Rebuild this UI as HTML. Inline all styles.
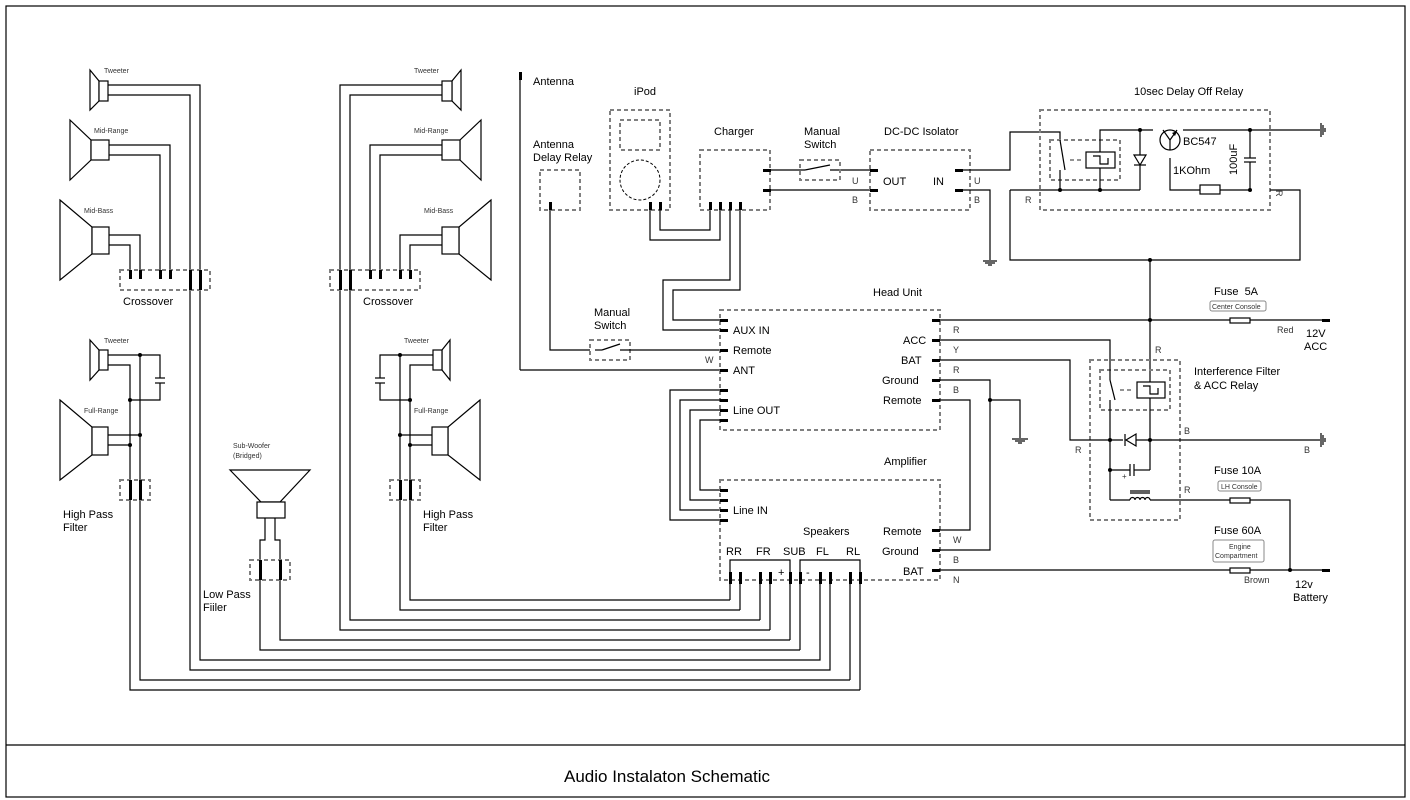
<!DOCTYPE html>
<html><head><meta charset="utf-8"><style>
html,body{margin:0;padding:0;background:#fff}
svg{display:block}
text{font-family:"Liberation Sans","DejaVu Sans",sans-serif;fill:#000}
.s{font-size:7px;fill:#333}
.m{font-size:11px}
.w{fill:none;stroke:#000;stroke-width:1.2}
.d{fill:none;stroke:#808080;stroke-width:2;stroke-dasharray:4,3}
.p{fill:#000}
.b{fill:#fff;stroke:#000;stroke-width:1.2}
</style></head><body>
<svg width="1410" height="800" viewBox="0 0 1410 800" xmlns="http://www.w3.org/2000/svg">
<rect x="6" y="6" width="1399" height="791" fill="none" stroke="#000" stroke-width="1.2"/>
<line x1="6" y1="745" x2="1405" y2="745" stroke="#000" stroke-width="1.2"/>
<text x="564" y="782" style="font-size:17px">Audio Instalaton Schematic</text>

<!-- ===== TOP LEFT SPEAKERS ===== -->
<polygon class="b" points="90,70 99,81 99,101 90,110"/><rect class="b" x="99" y="81" width="9" height="20"/>
<text class="s" x="104" y="73">Tweeter</text>
<polygon class="b" points="70,120 91,140 91,160 70,180"/><rect class="b" x="91" y="140" width="18" height="20"/>
<text class="s" x="94" y="133">Mid-Range</text>
<polygon class="b" points="60,200 92,227 92,254 60,280"/><rect class="b" x="92" y="227" width="17" height="27"/>
<text class="s" x="84" y="213">Mid-Bass</text>
<polyline class="w" points="108,85 200,85 200,660 730,660"/>
<polyline class="w" points="108,95 190,95 190,670 740,670"/>
<polyline class="w" points="109,145 170,145 170,275"/>
<polyline class="w" points="109,155 160,155 160,275"/>
<polyline class="w" points="109,235 140,235 140,275"/>
<polyline class="w" points="109,245 130,245 130,275"/>
<rect class="d" x="120" y="270" width="90" height="20"/>
<g class="p"><rect x="129" y="270" width="3" height="9"/><rect x="139" y="270" width="3" height="9"/><rect x="159" y="270" width="3" height="9"/><rect x="169" y="270" width="3" height="9"/><rect x="189" y="270" width="3" height="20"/><rect x="199" y="270" width="3" height="20"/></g>
<text class="m" x="123" y="305">Crossover</text>

<!-- ===== TOP RIGHT SPEAKERS ===== -->
<polygon class="b" points="461,70 452,81 452,101 461,110"/><rect class="b" x="442" y="81" width="10" height="20"/>
<text class="s" x="414" y="73">Tweeter</text>
<polygon class="b" points="481,120 460,140 460,160 481,180"/><rect class="b" x="442" y="140" width="18" height="20"/>
<text class="s" x="414" y="133">Mid-Range</text>
<polygon class="b" points="491,200 459,227 459,254 491,280"/><rect class="b" x="442" y="227" width="17" height="27"/>
<text class="s" x="424" y="213">Mid-Bass</text>
<polyline class="w" points="442,85 340,85 340,630 770,630"/>
<polyline class="w" points="442,95 350,95 350,620 760,620"/>
<polyline class="w" points="442,145 370,145 370,275"/>
<polyline class="w" points="442,155 380,155 380,275"/>
<polyline class="w" points="442,235 400,235 400,275"/>
<polyline class="w" points="442,245 410,245 410,275"/>
<rect class="d" x="330" y="270" width="90" height="20"/>
<g class="p"><rect x="339" y="270" width="3" height="20"/><rect x="349" y="270" width="3" height="20"/><rect x="369" y="270" width="3" height="9"/><rect x="379" y="270" width="3" height="9"/><rect x="399" y="270" width="3" height="9"/><rect x="409" y="270" width="3" height="9"/></g>
<text class="m" x="363" y="305">Crossover</text>

<!-- ===== BOTTOM LEFT (HPF) ===== -->
<polygon class="b" points="90,340 99,350 99,370 90,380"/><rect class="b" x="99" y="350" width="9" height="20"/>
<text class="s" x="104" y="343">Tweeter</text>
<polygon class="b" points="60,400 92,427 92,455 60,480"/><rect class="b" x="92" y="427" width="16" height="28"/>
<text class="s" x="84" y="413">Full-Range</text>
<polyline class="w" points="108,355 160,355 160,378"/><polyline class="w" points="160,383 160,400 130,400"/>
<line x1="155" y1="378" x2="165" y2="378" stroke="#000" stroke-width="1.2"/><line x1="155" y1="383" x2="165" y2="383" stroke="#000" stroke-width="1.2"/>
<polyline class="w" points="108,365 130,365 130,690 860,690"/>
<polyline class="w" points="140,355 140,680 850,680"/>
<line class="w" x1="108" y1="435" x2="140" y2="435"/><line class="w" x1="108" y1="445" x2="130" y2="445"/>
<g class="p"><circle cx="140" cy="355" r="2"/><circle cx="130" cy="400" r="2"/><circle cx="140" cy="435" r="2"/><circle cx="130" cy="445" r="2"/></g>
<rect class="d" x="120" y="480" width="30" height="20"/>
<g class="p"><rect x="129" y="480" width="3" height="20"/><rect x="139" y="480" width="3" height="20"/></g>
<text class="m" x="63" y="518">High Pass</text><text class="m" x="63" y="531">Filter</text>

<!-- ===== BOTTOM RIGHT (HPF) ===== -->
<polygon class="b" points="450,340 442,350 442,370 450,380"/><rect class="b" x="433" y="350" width="9" height="20"/>
<text class="s" x="404" y="343">Tweeter</text>
<polygon class="b" points="480,400 448,427 448,455 480,480"/><rect class="b" x="432" y="427" width="16" height="28"/>
<text class="s" x="414" y="413">Full-Range</text>
<polyline class="w" points="433,355 380,355 380,378"/><polyline class="w" points="380,383 380,400 410,400"/>
<line x1="375" y1="378" x2="385" y2="378" stroke="#000" stroke-width="1.2"/><line x1="375" y1="383" x2="385" y2="383" stroke="#000" stroke-width="1.2"/>
<polyline class="w" points="433,365 410,365 410,600 730,600"/>
<polyline class="w" points="400,355 400,610 740,610"/>
<line class="w" x1="432" y1="435" x2="400" y2="435"/><line class="w" x1="432" y1="445" x2="410" y2="445"/>
<g class="p"><circle cx="400" cy="355" r="2"/><circle cx="410" cy="400" r="2"/><circle cx="400" cy="435" r="2"/><circle cx="410" cy="445" r="2"/></g>
<rect class="d" x="390" y="480" width="30" height="20"/>
<g class="p"><rect x="399" y="480" width="3" height="20"/><rect x="409" y="480" width="3" height="20"/></g>
<text class="m" x="423" y="518">High Pass</text><text class="m" x="423" y="531">Filter</text>

<!-- ===== SUBWOOFER ===== -->
<text class="s" x="233" y="448">Sub-Woofer</text><text class="s" x="233" y="458">(Bridged)</text>
<polygon class="b" points="230,470 310,470 280,502 261,502"/>
<rect class="b" x="257" y="502" width="28" height="16"/>
<polyline class="w" points="265,518 265,540 260,540 260,650 800,650"/>
<polyline class="w" points="275,518 275,540 280,540 280,640 790,640"/>
<rect class="d" x="250" y="560" width="40" height="20"/>
<g class="p"><rect x="259" y="560" width="3" height="20"/><rect x="279" y="560" width="3" height="20"/></g>
<text class="m" x="203" y="598">Low Pass</text><text class="m" x="203" y="611">Fiiler</text>

<!-- remaining amp speaker wires -->
<polyline class="w" points="820,660 820,660"/>
<line class="w" x1="730" y1="580" x2="730" y2="600"/>
<line class="w" x1="740" y1="580" x2="740" y2="610"/>
<line class="w" x1="760" y1="580" x2="760" y2="620"/>
<line class="w" x1="770" y1="580" x2="770" y2="630"/>
<line class="w" x1="790" y1="580" x2="790" y2="640"/>
<line class="w" x1="800" y1="580" x2="800" y2="650"/>
<polyline class="w" points="730,660 820,660 820,580"/>
<polyline class="w" points="740,670 830,670 830,580"/>
<line class="w" x1="850" y1="580" x2="850" y2="680"/>
<line class="w" x1="860" y1="580" x2="860" y2="690"/>

<!-- ===== ANTENNA / RELAY ===== -->
<line class="w" x1="520" y1="72" x2="520" y2="370"/><rect class="p" x="519" y="72" width="3" height="8"/>
<line class="w" x1="520" y1="370" x2="720" y2="370"/>
<text class="m" x="533" y="85">Antenna</text>
<text class="m" x="533" y="148">Antenna</text><text class="m" x="533" y="161">Delay Relay</text>
<rect class="d" x="540" y="170" width="40" height="40"/><rect class="p" x="549" y="202" width="3" height="8"/>
<polyline class="w" points="550,210 550,350 590,350"/>
<rect class="d" x="590" y="340" width="40" height="20"/>
<line class="w" x1="595" y1="350" x2="602" y2="350"/><line class="w" x1="602" y1="350" x2="620" y2="344"/>
<line class="w" x1="620" y1="350" x2="720" y2="350"/>
<text class="m" x="594" y="316">Manual</text><text class="m" x="594" y="329">Switch</text>
<text class="s" x="705" y="363" style="font-size:9px">W</text>

<!-- iPod -->
<text class="m" x="634" y="95">iPod</text>
<rect class="d" x="610" y="110" width="60" height="100"/>
<rect class="d" x="620" y="120" width="40" height="30"/>
<circle cx="640" cy="180" r="20" fill="none" stroke="#000" stroke-width="1" stroke-dasharray="3,2"/>
<g class="p"><rect x="649" y="202" width="3" height="8"/><rect x="659" y="202" width="3" height="8"/></g>
<polyline class="w" points="660,210 660,230 710,230 710,210"/>
<polyline class="w" points="650,210 650,240 720,240 720,210"/>
<!-- Charger -->
<text class="m" x="714" y="135">Charger</text>
<rect class="d" x="700" y="150" width="70" height="60"/>
<g class="p"><rect x="709" y="202" width="3" height="8"/><rect x="719" y="202" width="3" height="8"/><rect x="729" y="202" width="3" height="8"/><rect x="739" y="202" width="3" height="8"/>
<rect x="763" y="169" width="8" height="3"/><rect x="763" y="189" width="8" height="3"/></g>
<polyline class="w" points="730,210 730,280 663,280 663,330 720,330"/>
<polyline class="w" points="740,210 740,290 673,290 673,320 720,320"/>
<line class="w" x1="770" y1="170" x2="805" y2="170"/>
<line class="w" x1="805" y1="170" x2="830" y2="165"/><line class="w" x1="830" y1="170" x2="875" y2="170"/>
<rect class="d" x="800" y="160" width="40" height="20"/>
<line class="w" x1="770" y1="190" x2="875" y2="190"/>
<text class="m" x="804" y="135">Manual</text><text class="m" x="804" y="148">Switch</text>
<text class="s" x="852" y="184" style="font-size:9px">U</text><text class="s" x="852" y="203" style="font-size:9px">B</text>
<!-- DC-DC -->
<text class="m" x="884" y="135">DC-DC Isolator</text>
<rect class="d" x="870" y="150" width="100" height="60"/>
<g class="p"><rect x="870" y="169" width="8" height="3"/><rect x="870" y="189" width="8" height="3"/><rect x="955" y="169" width="8" height="3"/><rect x="955" y="189" width="8" height="3"/></g>
<text class="m" x="883" y="185">OUT</text><text class="m" x="933" y="185">IN</text>
<text class="s" x="974" y="184" style="font-size:9px">U</text><text class="s" x="974" y="203" style="font-size:9px">B</text>
<polyline class="w" points="963,190 990,190 990,260"/>
<line class="w" x1="983" y1="261" x2="997" y2="261"/><line class="w" x1="985" y1="263" x2="995" y2="263"/><line class="w" x1="988" y1="265" x2="992" y2="265"/>
<polyline class="w" points="963,170 1010,170 1010,132 1060,132 1060,140"/>

<!-- ===== 10 SEC DELAY RELAY ===== -->
<text class="m" x="1134" y="95">10sec Delay Off Relay</text>
<rect class="d" x="1040" y="110" width="230" height="100"/>
<rect class="d" x="1050" y="140" width="70" height="40"/>
<line class="w" x1="1060" y1="140" x2="1065" y2="170"/><line class="w" x1="1060" y1="170" x2="1060" y2="190"/>
<line x1="1070" y1="160" x2="1082" y2="160" stroke="#555" stroke-width="1.2" stroke-dasharray="4,3"/>
<rect class="b" x="1086" y="152" width="29" height="16"/>
<polyline class="w" points="1093,156 1100,156 1100,164 1108,164 1108,158"/>
<polyline class="w" points="1100,152 1100,130 1153,130"/>
<line class="w" x1="1100" y1="168" x2="1100" y2="190"/>
<line class="w" x1="1140" y1="130" x2="1140" y2="190"/>
<polygon class="b" points="1134,155 1146,155 1140,165"/><line class="w" x1="1134" y1="165" x2="1146" y2="165"/>
<polyline class="w" points="1010,190 1140,190"/>
<polyline class="w" points="1010,190 1010,260 1300,260 1300,190 1270,190"/>
<circle cx="1170" cy="140" r="10" fill="none" stroke="#000" stroke-width="1.2"/>
<line class="w" x1="1163" y1="130" x2="1170" y2="140"/><line class="w" x1="1177" y1="130" x2="1170" y2="140"/>
<polygon class="p" points="1177,131 1172,133 1175,136"/>
<line class="w" x1="1170" y1="140" x2="1170" y2="150"/>
<polyline class="w" points="1170,158 1170,190 1200,190"/>
<rect class="b" x="1200" y="185" width="20" height="9"/>
<line class="w" x1="1220" y1="190" x2="1250" y2="190"/>
<line class="w" x1="1183" y1="130" x2="1320" y2="130"/>
<line class="w" x1="1250" y1="130" x2="1250" y2="158"/><line class="w" x1="1250" y1="162" x2="1250" y2="190"/>
<line class="w" x1="1244" y1="158" x2="1256" y2="158"/><line class="w" x1="1244" y1="162" x2="1256" y2="162"/>
<line class="w" x1="1321" y1="123" x2="1321" y2="137"/><line class="w" x1="1323" y1="125" x2="1323" y2="135"/><line class="w" x1="1325" y1="128" x2="1325" y2="132"/>
<g class="p"><circle cx="1060" cy="190" r="2"/><circle cx="1100" cy="190" r="2"/><circle cx="1140" cy="130" r="2"/><circle cx="1250" cy="130" r="2"/><circle cx="1250" cy="190" r="2"/><circle cx="1150" cy="260" r="2"/></g>
<text class="m" x="1183" y="145">BC547</text>
<text class="m" x="1173" y="174">1KOhm</text>
<text class="m" transform="translate(1237,175) rotate(-90)">100uF</text>
<text class="s" x="1025" y="203" style="font-size:9px">R</text>
<text class="s" transform="translate(1276,190) rotate(90)" style="font-size:9px">R</text>

<!-- ===== HEAD UNIT ===== -->
<text class="m" x="873" y="296">Head Unit</text>
<rect class="d" x="720" y="310" width="220" height="120"/>
<g class="p">
<rect x="720" y="319" width="8" height="3"/><rect x="720" y="329" width="8" height="3"/><rect x="720" y="349" width="8" height="3"/><rect x="720" y="369" width="8" height="3"/>
<rect x="720" y="389" width="8" height="3"/><rect x="720" y="399" width="8" height="3"/><rect x="720" y="409" width="8" height="3"/><rect x="720" y="419" width="8" height="3"/>
<rect x="932" y="319" width="8" height="3"/><rect x="932" y="339" width="8" height="3"/><rect x="932" y="359" width="8" height="3"/><rect x="932" y="379" width="8" height="3"/><rect x="932" y="399" width="8" height="3"/>
</g>
<text class="m" x="733" y="334">AUX IN</text><text class="m" x="733" y="354">Remote</text><text class="m" x="733" y="374">ANT</text><text class="m" x="733" y="414">Line OUT</text>
<text class="m" x="903" y="344">ACC</text><text class="m" x="901" y="364">BAT</text><text class="m" x="882" y="384">Ground</text><text class="m" x="883" y="404">Remote</text>
<g class="s" style="font-size:9px"><text x="953" y="333" class="s" style="font-size:9px">R</text><text x="953" y="353" class="s" style="font-size:9px">Y</text><text x="953" y="373" class="s" style="font-size:9px">R</text><text x="953" y="393" class="s" style="font-size:9px">B</text></g>
<polyline class="w" points="720,390 670,390 670,520 720,520"/>
<polyline class="w" points="720,400 680,400 680,510 720,510"/>
<polyline class="w" points="720,410 690,410 690,500 720,500"/>
<polyline class="w" points="720,420 700,420 700,490 720,490"/>

<!-- ===== AMPLIFIER ===== -->
<text class="m" x="884" y="465">Amplifier</text>
<rect class="d" x="720" y="480" width="220" height="100"/>
<g class="p">
<rect x="720" y="489" width="8" height="3"/><rect x="720" y="499" width="8" height="3"/><rect x="720" y="509" width="8" height="3"/><rect x="720" y="519" width="8" height="3"/>
<rect x="932" y="529" width="8" height="3"/><rect x="932" y="549" width="8" height="3"/><rect x="932" y="569" width="8" height="3"/>
<rect x="729" y="572" width="3" height="12"/><rect x="739" y="572" width="3" height="12"/><rect x="759" y="572" width="3" height="12"/><rect x="769" y="572" width="3" height="12"/><rect x="789" y="572" width="3" height="12"/>
<rect x="799" y="572" width="3" height="12"/><rect x="819" y="572" width="3" height="12"/><rect x="829" y="572" width="3" height="12"/><rect x="849" y="572" width="3" height="12"/><rect x="859" y="572" width="3" height="12"/>
</g>
<text class="m" x="733" y="514">Line IN</text>
<text class="m" x="803" y="535">Speakers</text>
<text class="m" x="726" y="555">RR</text><text class="m" x="756" y="555">FR</text><text class="m" x="783" y="555">SUB</text><text class="m" x="816" y="555">FL</text><text class="m" x="846" y="555">RL</text>
<polyline class="w" points="730,572 730,560 790,560 790,572"/>
<polyline class="w" points="800,572 800,560 860,560 860,572"/>
<text class="m" x="778" y="576">+</text><text class="m" x="806" y="576">-</text>
<text class="m" x="883" y="535">Remote</text><text class="m" x="882" y="555">Ground</text><text class="m" x="903" y="575">BAT</text>
<text class="s" x="953" y="543" style="font-size:9px">W</text><text class="s" x="953" y="563" style="font-size:9px">B</text><text class="s" x="953" y="583" style="font-size:9px">N</text>
<polyline class="w" points="940,400 970,400 970,530 940,530"/>
<polyline class="w" points="940,380 990,380 990,550 940,550"/>
<polyline class="w" points="990,400 1020,400 1020,438"/>
<line class="w" x1="1012" y1="439" x2="1028" y2="439"/><line class="w" x1="1015" y1="441" x2="1025" y2="441"/><line class="w" x1="1018" y1="443" x2="1022" y2="443"/>
<circle class="p" cx="990" cy="400" r="2"/>

<!-- ===== RIGHT POWER ===== -->
<line class="w" x1="940" y1="320" x2="1230" y2="320"/><rect class="b" x="1230" y="318" width="20" height="5"/><line class="w" x1="1250" y1="320" x2="1322" y2="320"/><rect class="p" x="1322" y="319" width="8" height="3"/>
<text class="m" x="1214" y="295">Fuse&#160;&#160;5A</text>
<rect x="1210" y="301" width="56" height="10" rx="2" fill="#fff" stroke="#888" stroke-width="1"/><text class="s" x="1212" y="309">Center Console</text>
<text class="s" x="1277" y="333" style="font-size:9px">Red</text>
<text class="m" x="1306" y="337">12V</text><text class="m" x="1304" y="350">ACC</text>
<line class="w" x1="1150" y1="260" x2="1150" y2="382"/>
<circle class="p" cx="1150" cy="320" r="2"/>
<text class="s" x="1155" y="353" style="font-size:9px">R</text>
<text class="m" x="1194" y="375">Interference Filter</text><text class="m" x="1194" y="389">&amp; ACC Relay</text>
<rect class="d" x="1090" y="360" width="90" height="160"/>
<rect class="d" x="1100" y="370" width="70" height="40"/>
<polyline class="w" points="940,340 1110,340 1110,380"/>
<line class="w" x1="1110" y1="380" x2="1115" y2="400"/><line class="w" x1="1110" y1="400" x2="1110" y2="500"/>
<line x1="1120" y1="390" x2="1132" y2="390" stroke="#555" stroke-width="1.2" stroke-dasharray="4,3"/>
<rect class="b" x="1137" y="382" width="28" height="16"/>
<polyline class="w" points="1143,386 1150,386 1150,394 1158,394 1158,388"/>
<line class="w" x1="1150" y1="398" x2="1150" y2="470"/>
<polyline class="w" points="940,360 1070,360 1070,440 1123,440"/>
<polygon class="b" points="1136,434 1136,446 1126,440"/><line class="w" x1="1125" y1="434" x2="1125" y2="446"/>
<line class="w" x1="1136" y1="440" x2="1320" y2="440"/>
<line class="w" x1="1321" y1="433" x2="1321" y2="447"/><line class="w" x1="1323" y1="435" x2="1323" y2="445"/><line class="w" x1="1325" y1="438" x2="1325" y2="442"/>
<polyline class="w" points="1150,470 1134,470"/><line class="w" x1="1134" y1="464" x2="1134" y2="476"/><line class="w" x1="1130" y1="464" x2="1130" y2="476"/><line class="w" x1="1130" y1="470" x2="1110" y2="470"/>
<text class="s" x="1122" y="479" style="font-size:8px">+</text>
<g class="p"><circle cx="1110" cy="440" r="2"/><circle cx="1150" cy="440" r="2"/><circle cx="1110" cy="470" r="2"/></g>
<line class="w" x1="1110" y1="500" x2="1130" y2="500"/>
<path d="M1130,500 a2.5,2.5 0 0 1 5,0 a2.5,2.5 0 0 1 5,0 a2.5,2.5 0 0 1 5,0 a2.5,2.5 0 0 1 5,0" class="w"/>
<line class="w" x1="1130" y1="491" x2="1150" y2="491"/><line class="w" x1="1130" y1="493" x2="1150" y2="493"/>
<line class="w" x1="1150" y1="500" x2="1230" y2="500"/><rect class="b" x="1230" y="498" width="20" height="5"/>
<polyline class="w" points="1250,500 1290,500 1290,570"/>
<text class="s" x="1075" y="453" style="font-size:9px">R</text><text class="s" x="1184" y="434" style="font-size:9px">B</text><text class="s" x="1304" y="453" style="font-size:9px">B</text><text class="s" x="1184" y="493" style="font-size:9px">R</text>
<text class="m" x="1214" y="474">Fuse 10A</text>
<rect x="1218" y="481" width="43" height="10" rx="2" fill="#fff" stroke="#888" stroke-width="1"/><text class="s" x="1221" y="489">LH Console</text>
<text class="m" x="1214" y="534">Fuse 60A</text>
<rect x="1213" y="540" width="51" height="22" rx="2" fill="#fff" stroke="#888" stroke-width="1"/><text class="s" x="1229" y="549">Engine</text><text class="s" x="1215" y="558">Compartment</text>
<line class="w" x1="940" y1="570" x2="1230" y2="570"/><rect class="b" x="1230" y="568" width="20" height="5"/><line class="w" x1="1250" y1="570" x2="1322" y2="570"/><rect class="p" x="1322" y="569" width="8" height="3"/>
<circle class="p" cx="1290" cy="570" r="2"/>
<text class="s" x="1244" y="583" style="font-size:9px">Brown</text>
<text class="m" x="1295" y="588">12v</text><text class="m" x="1293" y="601">Battery</text>
</svg>
</body></html>
